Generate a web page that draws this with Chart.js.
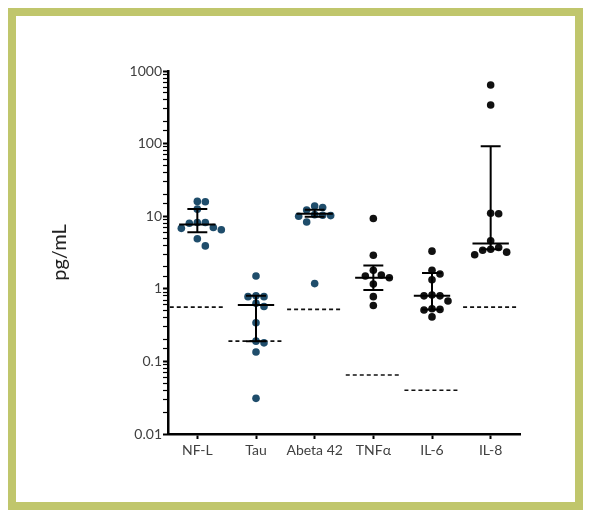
<!DOCTYPE html>
<html>
<head>
<meta charset="utf-8">
<script src="https://cdn.jsdelivr.net/npm/chart.js@4.4.1/dist/chart.umd.min.js"></script>
<style>
  html, body { margin: 0; padding: 0; background: #fff; }
  #wrap { position: relative; width: 590px; height: 517px; }
  #frame {
    position: absolute; left: 8px; top: 8px; width: 575px; height: 502px;
    box-sizing: border-box; border: 8px solid #c0c66c;
  }
  #chart { position: absolute; left: 0; top: 0; }
</style>
</head>
<body>
<div id="wrap">
  <div id="frame"></div>
  <canvas id="chart" width="590" height="517"></canvas>
</div>
<script>
// markers measured in pg/mL
const categories = ['NF-L', 'Tau', 'Abeta 42', 'TNF\u03b1', 'IL-6', 'IL-8'];

const nfl   = [16, 15.8, 12.5, 8.2, 8.2, 8.0, 7.0, 6.8, 6.5, 4.9, 3.9];
const tau   = [1.5, 0.8, 0.78, 0.78, 0.63, 0.57, 0.34, 0.19, 0.18, 0.135, 0.031];
const abeta = [13.8, 13.2, 12.2, 10.5, 10.3, 10.2, 10.0, 8.3, 1.18];
const tnfa  = [9.3, 2.9, 1.8, 1.55, 1.5, 1.42, 1.16, 0.78, 0.59];
const il6   = [3.3, 1.8, 1.6, 1.33, 0.82, 0.8, 0.8, 0.68, 0.53, 0.52, 0.51, 0.41];
const il8   = [640, 340, 11, 10.8, 4.6, 3.7, 3.5, 3.4, 3.2, 2.95];

// median with interquartile range, as drawn
const medians = [7.7, 0.6, 10.8, 1.42, 0.8, 4.2];
const lowerQ  = [6.0, 0.19, 9.8, 0.96, 0.52, 3.5];
const upperQ  = [12.6, 0.8, 12.3, 2.1, 1.65, 92];

// limit of detection (dashed lines)
const lod = [0.56, 0.19, 0.52, 0.065, 0.04, 0.56];

const yTickLabels = ['0.01', '0.1', '1', '10', '100', '1000'];

const series = [nfl, tau, abeta, tnfa, il6, il8];
const dotColors = ['#1f4d6b', '#1f4d6b', '#1f4d6b', '#111', '#111', '#111'];

// simple beeswarm so dots at similar values sit side by side
function swarm(values, idx) {
  const pxX = 58.7, pxY = 72.4, d = 8;
  const placed = [];
  return values.slice().sort((a, b) => b - a).map(v => {
    const ly = Math.log10(v) * pxY;
    for (let k = 0; k < 30; k++) {
      const off = k === 0 ? 0 : (k % 2 ? 1 : -1) * Math.ceil(k / 2) * d;
      if (placed.every(p => Math.hypot(p.x - off, p.y - ly) >= d - 0.5)) {
        placed.push({ x: off, y: ly });
        return { x: idx + off / pxX, y: v };
      }
    }
    return { x: idx, y: v };
  });
}

function barPoints() {
  const pts = [];
  const gap = i => pts.push({ x: i, y: null });
  medians.forEach((m, k) => {
    const i = k + 1;
    pts.push({ x: i, y: lowerQ[k] }, { x: i, y: upperQ[k] }); gap(i);
    pts.push({ x: i - 0.17, y: upperQ[k] }, { x: i + 0.17, y: upperQ[k] }); gap(i);
    pts.push({ x: i - 0.17, y: lowerQ[k] }, { x: i + 0.17, y: lowerQ[k] }); gap(i);
    pts.push({ x: i - 0.31, y: m }, { x: i + 0.31, y: m }); gap(i);
  });
  return pts;
}

function lodPoints() {
  const pts = [];
  lod.forEach((v, k) => {
    const i = k + 1;
    pts.push({ x: i - 0.47, y: v }, { x: i + 0.47, y: v }, { x: i, y: null });
  });
  return pts;
}

const datasets = series.map((vals, k) => ({
  type: 'scatter',
  data: swarm(vals, k + 1),
  backgroundColor: dotColors[k],
  borderColor: dotColors[k],
  borderWidth: 0,
  pointRadius: 3.8,
  order: 2
}));

datasets.push({
  type: 'line',
  data: lodPoints(),
  borderColor: '#111',
  borderWidth: 1.6,
  borderDash: [4, 3],
  pointRadius: 0,
  spanGaps: false,
  order: 1
});

datasets.push({
  type: 'line',
  data: barPoints(),
  borderColor: '#000',
  borderWidth: 2,
  pointRadius: 0,
  spanGaps: false,
  order: 0
});

const labelFont = { family: 'Lato', size: 14 };

new Chart(document.getElementById('chart'), {
  type: 'scatter',
  data: { datasets },
  options: {
    responsive: false,
    animation: false,
    layout: { padding: { left: 40, top: 71, right: 70, bottom: 53 } },
    plugins: { legend: { display: false }, tooltip: { enabled: false } },
    scales: {
      x: {
        type: 'linear',
        min: 0.5,
        max: 6.5,
        afterBuildTicks: s => { s.ticks = categories.map((c, i) => ({ value: i + 1 })); },
        afterFit: s => { s.height = 30; },
        border: { color: '#000', width: 2.5 },
        grid: { drawOnChartArea: false, drawTicks: true, tickLength: 5, tickColor: '#000', tickWidth: 2 },
        ticks: {
          autoSkip: false, maxRotation: 0, padding: 3,
          color: '#404040', font: labelFont,
          callback: v => categories[Math.round(v) - 1]
        }
      },
      y: {
        type: 'logarithmic',
        min: 0.01,
        max: 1000,
        afterFit: s => { s.width = 128; },
        border: { color: '#000', width: 2.5 },
        grid: {
          drawOnChartArea: false, drawTicks: true, tickLength: 5, tickColor: '#000',
          tickWidth: c => {
            const l = Math.log10(c.tick.value);
            return Math.abs(l - Math.round(l)) < 1e-6 ? 2 : 1.2;
          }
        },
        ticks: {
          autoSkip: false, padding: 1,
          color: '#404040', font: labelFont,
          callback: v => {
            const l = Math.log10(v);
            if (Math.abs(l - Math.round(l)) > 1e-6) return '';
            return yTickLabels[Math.round(l) + 2];
          }
        },
        title: {
          display: true, text: 'pg/mL', color: '#222',
          font: { family: 'Lato', size: 20 },
          padding: { top: 8, bottom: 0 }
        }
      }
    }
  }
});
</script>
</body>
</html>
